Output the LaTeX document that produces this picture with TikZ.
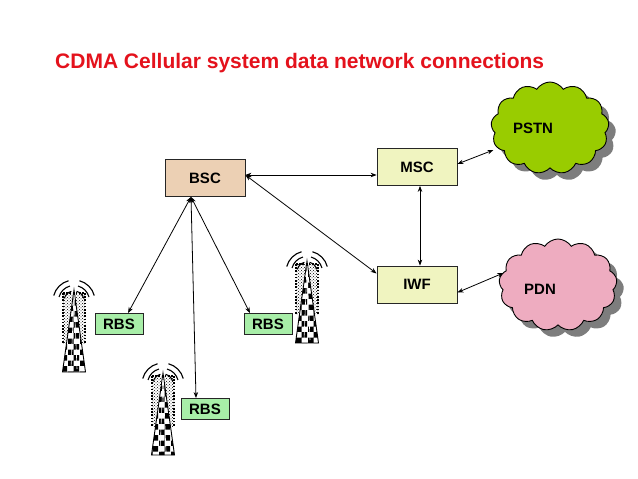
\documentclass[tikz,border=0pt]{standalone}
\usepackage{fontspec}
\setmainfont{Liberation Sans}
\usetikzlibrary{shapes.symbols,patterns,arrows.meta,calc}
\definecolor{titlered}{RGB}{228,18,28}
\definecolor{bscfill}{RGB}{236,208,180}
\definecolor{mscfill}{RGB}{240,244,192}
\definecolor{rbsfill}{RGB}{168,238,168}
\definecolor{pstnfill}{RGB}{153,204,0}
\definecolor{pdnfill}{RGB}{238,172,192}
\definecolor{shadowgray}{RGB}{125,125,125}
\tikzset{
  box/.style={draw=black!85, line width=0.8pt, inner sep=0pt,
    font=\fontsize{15}{17}\selectfont\bfseries},
  bigbox/.style={box, minimum width=80pt, minimum height=37pt},
  rbsbox/.style={box, fill=rbsfill, minimum width=48pt, minimum height=21pt},
  cloudshape/.style={cloud, cloud puffs=13, cloud puff arc=115, line width=0.9pt,
    minimum width=118pt, minimum height=92pt, inner sep=0pt},
  cloudnode/.style={cloudshape, draw=black},
  cloudshadow/.style={cloudshape, fill=shadowgray},
  cloudtext/.style={font=\fontsize{15}{17}\selectfont\bfseries},
  conn/.style={{Stealth[length=6pt,width=4.5pt]}-{Stealth[length=6pt,width=4.5pt]}, line width=0.8pt},
  tower/.pic={
    % column with dotted sides
    \draw[line width=1.8pt, dash pattern=on 1.6pt off 1.6pt] (-11,14) -- (-11,64) (11,14) -- (11,64);
    \draw[line width=1.8pt, dash pattern=on 1.6pt off 1.6pt] (-11,14) -- (11,14);
    \fill[pattern=crosshatch dots] (-11,14) rectangle (11,64);
    % mast triangle
    \fill[white] (-11.5,93) -- (0,11) -- (11.5,93) -- cycle;
    \fill[pattern=checkerboard] (-11.5,93) -- (0,11) -- (11.5,93) -- cycle;
    \draw[line width=0.9pt] (-11.5,93) -- (0,11) -- (11.5,93) -- cycle;
    \draw[line width=0.6pt, white] (-3,90) -- (0,16) -- (3,90);
    % radio arcs
    \foreach \r in {10,15.5,21}{
      \draw[line width=1.1pt] (0,22) ++(105:\r pt) arc[start angle=105, end angle=165, radius=\r pt];
      \draw[line width=1.1pt] (0,22) ++(75:\r pt) arc[start angle=75, end angle=15, radius=\r pt];
    }
  }
}
\begin{document}
\begin{tikzpicture}[x=1pt,y=-1pt]
\useasboundingbox[fill=white] (0,0) rectangle (638,479);

\node[anchor=base west, inner sep=0pt, text=titlered, font=\fontsize{21}{24}\selectfont\bfseries] (title) at (55,68)
  {CDMA Cellular system data network connections};

% towers
\pic (t1) at (74,279) {tower};
\pic (t2) at (307,250) {tower};
\pic (t3) at (163,362) {tower};

% boxes
\node[bigbox, fill=bscfill] (bsc) at (205,178) {BSC};
\node[bigbox, fill=mscfill] (msc) at (417,167) {MSC};
\node[bigbox, fill=mscfill] (iwf) at (417,284.5) {IWF};
\node[rbsbox] (rbs1) at (119,324) {RBS};
\node[rbsbox] (rbs2) at (268,324) {RBS};
\node[rbsbox] (rbs3) at (205,409) {RBS};

% clouds
\node[cloudshadow] (pstnshadow) at (557,135) {};
\node[cloudnode, fill=pstnfill] (pstn) at (550,128) {};
\node[cloudtext] (pstntext) at (533,128) {PSTN};
\node[cloudshadow] (pdnshadow) at (565,292) {};
\node[cloudnode, fill=pdnfill] (pdn) at (558,285) {};
\node[cloudtext] (pdntext) at (540,289) {PDN};

% connectors
\coordinate (bscb) at ([xshift=-14pt]bsc.south);
\coordinate (bsce) at ([yshift=3pt]bsc.east);
\draw[conn] (bscb) -- ([xshift=9pt]rbs1.north);
\draw[conn] (bscb) -- ([xshift=-18pt]rbs2.north);
\draw[conn] (bscb) -- ([xshift=-9pt]rbs3.north);
\draw[conn] (bsce) -- (bsce -| msc.west);
\draw[conn] (bsce) -- ([yshift=11pt]iwf.west);
\draw[conn] ([xshift=3pt]msc.south) -- ([xshift=3pt]iwf.north);
\draw[conn] ([yshift=3pt]msc.east) -- ($(pstn.west)+(2,22)$);
\draw[conn] ([yshift=-8pt]iwf.east) -- ($(pdn.west)+(4,-12)$);
\end{tikzpicture}
\end{document}
